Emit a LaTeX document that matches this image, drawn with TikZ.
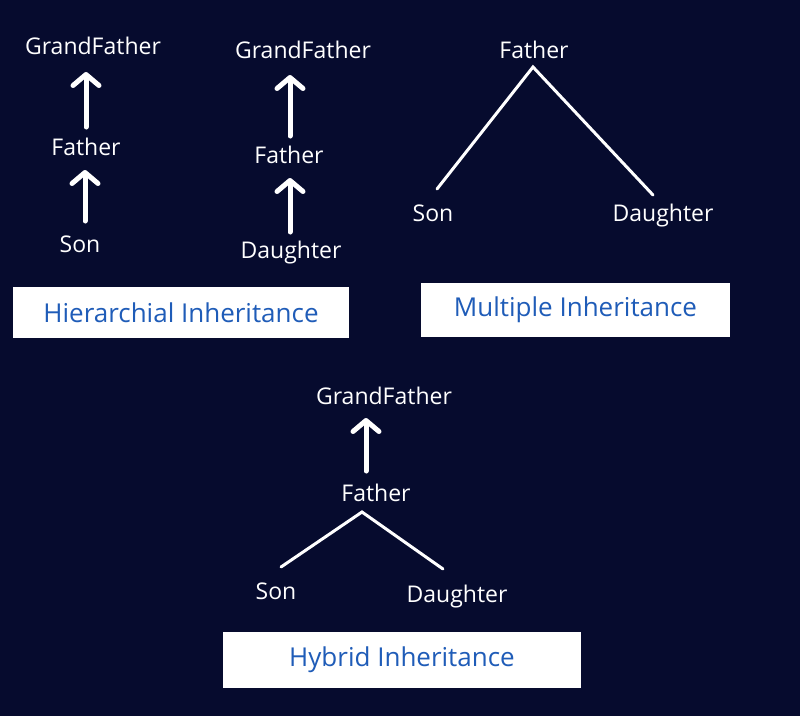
\documentclass[tikz,border=0pt]{standalone}
\usepackage{fontspec}
\setmainfont{Open Sans}
\usetikzlibrary{arrows.meta}
\definecolor{bg}{HTML}{060B2E}
\definecolor{lbl}{HTML}{1F5CB8}
\begin{document}
\begin{tikzpicture}[x=1pt,y=-1pt,
  txt/.style={text=white,font=\fontsize{23}{26}\selectfont,inner sep=0pt},
  box/.style={fill=white,text=lbl,font=\fontsize{26}{30}\selectfont,inner sep=0pt},
  up/.style={draw=white,line width=5pt,line cap=round,-{Straight Barb[length=11pt,width=26pt,line width=5pt,round]}},
  ln/.style={draw=white,line width=3pt,line cap=round}]
\fill[bg] (0,0) rectangle (800,716);
\useasboundingbox (0,0) rectangle (800,716);
% column 1
\node[txt] (g1) at (93,46) {GrandFather};
\node[txt] (f1) at (86,147) {Father};
\node[txt] (s1) at (80,244) {Son};
\coordinate (a1s) at (86,127); \coordinate (a1e) at (86,72);
\coordinate (a2s) at (85,221); \coordinate (a2e) at (85,170);
\draw[up] (a1s) -- (a1e);
\draw[up] (a2s) -- (a2e);
% column 2
\node[txt] (g2) at (303,50) {GrandFather};
\node[txt] (f2) at (289,155) {Father};
\node[txt] (d2) at (291,253) {Daughter};
\coordinate (b1s) at (290,136); \coordinate (b1e) at (290,75);
\coordinate (b2s) at (290,232); \coordinate (b2e) at (290,178);
\draw[up] (b1s) -- (b1e);
\draw[up] (b2s) -- (b2e);
\node[box,minimum width=336pt,minimum height=51pt] (h) at (181,312.5) {Hierarchial Inheritance};
% multiple
\node[txt] (f3) at (534,50) {Father};
\node[txt] (s3) at (433,213) {Son};
\node[txt] (d3) at (663,216) {Daughter};
\coordinate (m0) at (533,67); \coordinate (m1) at (437,189); \coordinate (m2) at (653,195);
\draw[ln] (m1) -- (m0) -- (m2);
\node[box,minimum width=309pt,minimum height=54pt] (m) at (575.5,310) {Multiple Inheritance};
% hybrid
\node[txt] (g4) at (384,396) {GrandFather};
\node[txt] (f4) at (376,493) {Father};
\node[txt] (s4) at (276,591) {Son};
\node[txt] (d4) at (457,597) {Daughter};
\coordinate (c1s) at (366,471); \coordinate (c1e) at (366,418);
\draw[up] (c1s) -- (c1e);
\coordinate (h0) at (362,512); \coordinate (h1) at (281,567); \coordinate (h2) at (443,569);
\draw[ln] (h1) -- (h0) -- (h2);
\node[box,minimum width=358pt,minimum height=56pt] (y) at (402,660) {Hybrid Inheritance};
\end{tikzpicture}
\end{document}
